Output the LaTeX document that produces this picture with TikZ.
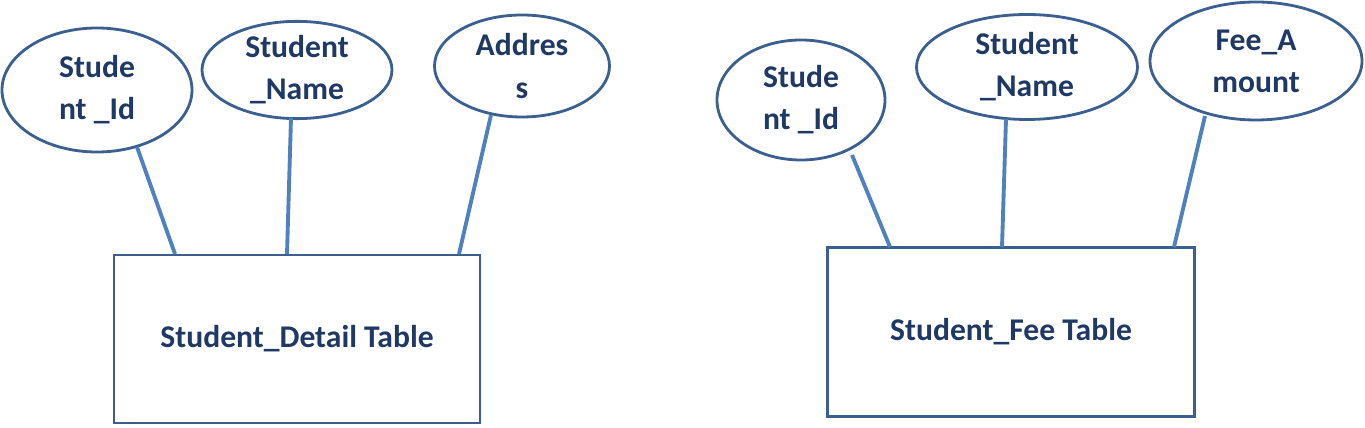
\documentclass[tikz,border=0pt]{standalone}
\usepackage{fontspec}
\setmainfont{Carlito}
\usetikzlibrary{shapes.geometric}
\definecolor{edgeblue}{HTML}{3B5F8F}
\definecolor{linkblue}{HTML}{4F81BD}
\definecolor{textnavy}{HTML}{1F3864}
\begin{document}
\begin{tikzpicture}[x=0.02cm,y=-0.02cm]
	\tikzstyle{attr} = [ellipse,draw=edgeblue,line width=1.6pt,text=textnavy,font=\fontsize{18}{24}\selectfont\bfseries,align=center,inner sep=0pt]
	\tikzstyle{table} = [draw=edgeblue,line width=1.6pt,text=textnavy,font=\fontsize{18}{24}\selectfont\bfseries,inner sep=0pt]
	\tikzstyle{link} = [draw=linkblue,line width=2.2pt]
	\useasboundingbox (0,0) rectangle (1365,428);
	% left table
	\node[attr,minimum width=190*0.02cm,minimum height=124*0.02cm] (sid1) at (97,90) {Stude\\nt \_Id};
	\node[attr,minimum width=190*0.02cm,minimum height=96*0.02cm] (sname1) at (297,70) {Student\\\_Name};
	\node[attr,minimum width=175*0.02cm,minimum height=102*0.02cm] (addr) at (522,66) {Addres\\s};
	\node[table,minimum width=366*0.02cm,minimum height=168*0.02cm] (detail) at (297,339) {Student\_Detail Table};
	% right table
	\node[attr,minimum width=168*0.02cm,minimum height=120*0.02cm] (sid2) at (801,100) {Stude\\nt \_Id};
	\node[attr,minimum width=221*0.02cm,minimum height=105*0.02cm] (sname2) at (1027,67) {Student\\\_Name};
	\node[attr,minimum width=212*0.02cm,minimum height=118*0.02cm] (fee) at (1256,61) {Fee\_A\\mount};
	\node[table,minimum width=367*0.02cm,minimum height=169*0.02cm] (feetab) at (1011,332) {Student\_Fee Table};
	% line ends
	\coordinate (a1) at (137,147); \coordinate (b1) at (175,254);
	\coordinate (a2) at (291,118); \coordinate (b2) at (287,254);
	\coordinate (a3) at (491,115); \coordinate (b3) at (459,254);
	\coordinate (a4) at (852,155); \coordinate (b4) at (890,247);
	\coordinate (a5) at (1006,119); \coordinate (b5) at (1002,247);
	\coordinate (a6) at (1205,116); \coordinate (b6) at (1174,247);
	% connections
	\foreach \i in {1,...,6}
		\draw[link] (a\i) -- (b\i);
\end{tikzpicture}
\end{document}
